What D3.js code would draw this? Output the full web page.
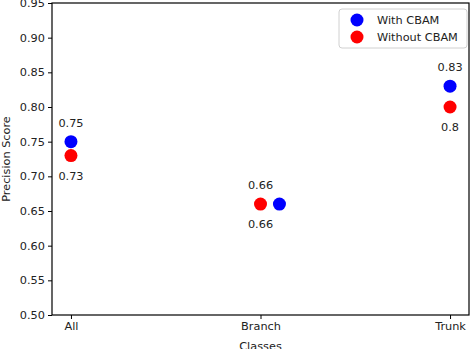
<!DOCTYPE html>
<html>
<head>
<meta charset="utf-8">
<script src="https://cdn.jsdelivr.net/npm/d3@7"></script>
<style>
  body { margin: 0; background: #fff; }
  svg { display: block; font-family: "DejaVu Sans", sans-serif; }
</style>
</head>
<body>
<svg id="chart" width="474" height="349"></svg>
<script>
const categories = ["All", "Branch", "Trunk"];
const withCBAM = [0.75, 0.66, 0.83];
const withoutCBAM = [0.73, 0.66, 0.80];
const withOffset = [0, 0.1, 0];
const yTicks = [0.50, 0.55, 0.60, 0.65, 0.70, 0.75, 0.80, 0.85, 0.90, 0.95];
const seriesNames = ["With CBAM", "Without CBAM"];
const seriesColors = ["#0000ff", "#ff0000"];

(function () {
const svg = d3.select("#chart");
const mLeft = 52, mRight = 469, mTop = 3, mBottom = 315;
const fs = 11.3;

const x = d3.scaleLinear().domain([-0.1, 2.1]).range([mLeft, mRight]);
const y = d3.scaleLinear().domain([0.5, 0.95]).range([mBottom, mTop]);

// frame
svg.append("rect").attr("x", mLeft).attr("y", mTop)
  .attr("width", mRight - mLeft).attr("height", mBottom - mTop)
  .attr("fill", "none").attr("stroke", "#000").attr("stroke-width", 1.2);

// y axis
const yAxis = d3.axisLeft(y).tickValues(yTicks).tickFormat(d3.format(".2f")).tickSize(4).tickPadding(3);
const gy = svg.append("g").attr("transform", `translate(${mLeft},0)`).call(yAxis);
gy.select(".domain").remove();
gy.selectAll("text").attr("font-size", fs).attr("fill", "#222").attr("font-family", "DejaVu Sans, sans-serif");

// x axis
const xAxis = d3.axisBottom(x).tickValues(d3.range(categories.length)).tickFormat(i => categories[i]).tickSize(4).tickPadding(3);
const gx = svg.append("g").attr("transform", `translate(0,${mBottom})`).call(xAxis);
gx.select(".domain").remove();
gx.selectAll("text").attr("font-size", fs).attr("fill", "#222").attr("font-family", "DejaVu Sans, sans-serif");

// axis titles
svg.append("text").attr("x", (mLeft + mRight) / 2).attr("y", 350)
  .attr("text-anchor", "middle").attr("font-size", fs).attr("fill", "#222").text("Classes");
svg.append("text").attr("transform", `translate(10,${(mTop + mBottom) / 2}) rotate(-90)`)
  .attr("text-anchor", "middle").attr("font-size", fs).attr("fill", "#222").text("Precision Score");

// points
const r = 6.5;
svg.append("g").selectAll("circle").data(withCBAM).join("circle")
  .attr("cx", (d, i) => x(i + withOffset[i])).attr("cy", d => y(d)).attr("r", r).attr("fill", seriesColors[0]);
svg.append("g").selectAll("circle").data(withoutCBAM).join("circle")
  .attr("cx", (d, i) => x(i)).attr("cy", d => y(d)).attr("r", r).attr("fill", seriesColors[1]);

// value labels
svg.append("g").selectAll("text").data(withCBAM).join("text")
  .attr("x", (d, i) => x(i)).attr("y", d => y(d) - 15)
  .attr("text-anchor", "middle").attr("font-size", fs).attr("fill", "#222").text(d => String(d));
svg.append("g").selectAll("text").data(withoutCBAM).join("text")
  .attr("x", (d, i) => x(i)).attr("y", d => y(d) + 24)
  .attr("text-anchor", "middle").attr("font-size", fs).attr("fill", "#222").text(d => String(d));

// legend
const lg = svg.append("g");
lg.append("rect").attr("x", 339).attr("y", 9).attr("width", 128).attr("height", 39).attr("rx", 3)
  .attr("fill", "#fff").attr("fill-opacity", 0.8).attr("stroke", "#d0d0d0");
seriesNames.forEach((n, i) => {
  lg.append("circle").attr("cx", 357).attr("cy", 20 + i * 17).attr("r", r).attr("fill", seriesColors[i]);
  lg.append("text").attr("x", 377).attr("y", 20 + i * 17 + 4).attr("font-size", fs).attr("fill", "#222").text(n);
});
})();
</script>
</body>
</html>
